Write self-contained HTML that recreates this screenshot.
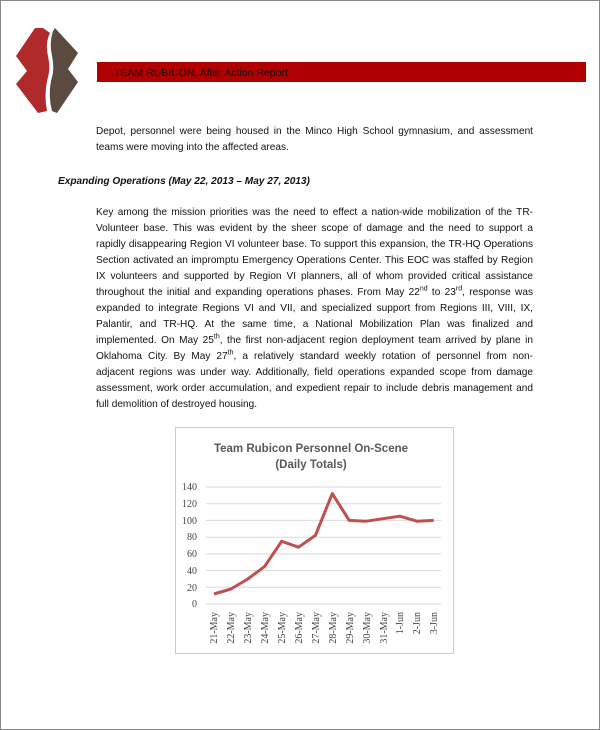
<!DOCTYPE html>
<html><head><meta charset="utf-8"><style>
body{margin:0;background:#fff;}
#pg{position:relative;width:598px;height:728px;border:1px solid #888;overflow:hidden;font-family:"Liberation Sans",sans-serif;color:#111;}
.l{position:absolute;left:95px;width:437px;font-size:10.1px;line-height:14px;text-align:justify;text-align-last:justify;white-space:nowrap;}
.l.e{text-align-last:left;}
sup{font-size:7px;line-height:0;}
</style></head><body><div id="pg">
<svg style="position:absolute;left:0;top:0" width="600" height="130">
<path d="M34,27 L15,55 L26,70 L15,83 L37,112 L46,110 Q43,95 46,80 Q50,68 47,55 Q44,42 49,32 L42,27 Z" fill="#b02a2c"/>
<path d="M54,27 L77,52 L67,68 L77,81 L56,112 L51,110 Q47,95 50,80 Q54,68 51,55 Q48,42 52,30 Z" fill="#5a4a40"/>
<rect x="96" y="61" width="489" height="20" fill="#b00000"/>
<text x="113" y="75" font-family="Liberation Sans" font-size="10.5" fill="#111">TEAM RUBICON, After Action Report</text>
</svg>
<div class="l" style="top:124px">Depot, personnel were being housed in the Minco High School gymnasium, and assessment</div>
<div class="l e" style="top:140px">teams were moving into the affected areas.</div>
<div class="l e" style="top:174px;left:57px;font-weight:bold;font-style:italic">Expanding Operations (May 22, 2013 – May 27, 2013)</div>
<div class="l" style="top:205px">Key among the mission priorities was the need to effect a nation-wide mobilization of the TR-</div>
<div class="l" style="top:221px">Volunteer base. This was evident by the sheer scope of damage and the need to support a</div>
<div class="l" style="top:237px">rapidly disappearing Region VI volunteer base. To support this expansion, the TR-HQ Operations</div>
<div class="l" style="top:253px">Section activated an impromptu Emergency Operations Center. This EOC was staffed by Region</div>
<div class="l" style="top:269px">IX volunteers and supported by Region VI planners, all of whom provided critical assistance</div>
<div class="l" style="top:285px">throughout the initial and expanding operations phases. From May 22<sup>nd</sup> to 23<sup>rd</sup>, response was</div>
<div class="l" style="top:301px">expanded to integrate Regions VI and VII, and specialized support from Regions III, VIII, IX,</div>
<div class="l" style="top:317px">Palantir, and TR-HQ. At the same time, a National Mobilization Plan was finalized and</div>
<div class="l" style="top:333px">implemented. On May 25<sup>th</sup>, the first non-adjacent region deployment team arrived by plane in</div>
<div class="l" style="top:349px">Oklahoma City. By May 27<sup>th</sup>, a relatively standard weekly rotation of personnel from non-</div>
<div class="l" style="top:365px">adjacent regions was under way. Additionally, field operations expanded scope from damage</div>
<div class="l" style="top:381px">assessment, work order accumulation, and expedient repair to include debris management and</div>
<div class="l e" style="top:397px">full demolition of destroyed housing.</div>
<svg style="position:absolute;left:0;top:0" width="600" height="730" font-family="Liberation Sans">
<rect x="174.5" y="426.5" width="278" height="226" fill="#fff" stroke="#ccc"/>
<text x="310" y="451" text-anchor="middle" font-size="11.5" font-weight="bold" fill="#595959">Team Rubicon Personnel On-Scene</text>
<text x="310" y="467" text-anchor="middle" font-size="11.5" font-weight="bold" fill="#595959">(Daily Totals)</text>
<g stroke="#d9d9d9" stroke-width="1">
<line x1="205" x2="440" y1="486" y2="486"/><line x1="205" x2="440" y1="502.7" y2="502.7"/><line x1="205" x2="440" y1="519.4" y2="519.4"/><line x1="205" x2="440" y1="536.2" y2="536.2"/><line x1="205" x2="440" y1="552.9" y2="552.9"/><line x1="205" x2="440" y1="569.6" y2="569.6"/><line x1="205" x2="440" y1="586.3" y2="586.3"/><line x1="205" x2="440" y1="603" y2="603"/>
</g>
<g font-size="10" fill="#444" text-anchor="end" font-family="Liberation Serif">
<text x="196" y="489">140</text><text x="196" y="506">120</text><text x="196" y="523">100</text><text x="196" y="539">80</text><text x="196" y="556">60</text><text x="196" y="573">40</text><text x="196" y="590">20</text><text x="196" y="606">0</text>
</g>
<polyline fill="none" stroke="#c0504d" stroke-width="3" stroke-linejoin="round" points="213,593 229.9,588 246.8,578 263.7,565.4 280.6,540.3 297.5,546.2 314.4,534.4 331.3,492.6 348.2,519.4 365.1,520.2 382,517.7 398.9,515.2 415.8,520.2 432.7,519.4"/>
<g font-size="10" fill="#444" text-anchor="end" font-family="Liberation Serif">
<text transform="translate(216,611) rotate(-90)">21-May</text>
<text transform="translate(233,611) rotate(-90)">22-May</text>
<text transform="translate(250,611) rotate(-90)">23-May</text>
<text transform="translate(267,611) rotate(-90)">24-May</text>
<text transform="translate(284,611) rotate(-90)">25-May</text>
<text transform="translate(301,611) rotate(-90)">26-May</text>
<text transform="translate(318,611) rotate(-90)">27-May</text>
<text transform="translate(335,611) rotate(-90)">28-May</text>
<text transform="translate(352,611) rotate(-90)">29-May</text>
<text transform="translate(369,611) rotate(-90)">30-May</text>
<text transform="translate(386,611) rotate(-90)">31-May</text>
<text transform="translate(402,611) rotate(-90)">1-Jun</text>
<text transform="translate(419,611) rotate(-90)">2-Jun</text>
<text transform="translate(436,611) rotate(-90)">3-Jun</text>
</g>
</svg>
</div></body></html>
